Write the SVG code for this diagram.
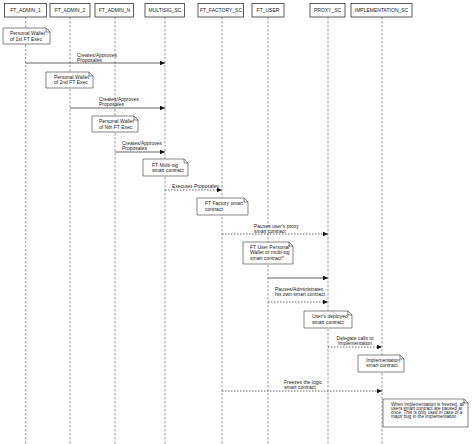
<svg xmlns="http://www.w3.org/2000/svg" width="474" height="444" viewBox="0 0 474 444">
<style>
text{font-family:"Liberation Sans",Arial,sans-serif;font-size:5px;fill:#222}
.hd{fill:#fff;stroke:#333;stroke-width:0.8}
.ht{text-anchor:middle}
.ll{stroke:#555;stroke-width:0.6;stroke-dasharray:2.5,1.5;fill:none}
.nt{fill:#fff;stroke:#333;stroke-width:0.6}
.sm{stroke:#222;stroke-width:0.7;fill:none;marker-end:url(#ah)}
.dm{stroke:#222;stroke-width:0.7;fill:none;stroke-dasharray:1.5,1.5;marker-end:url(#ah)}
.lb{}
</style>
<defs>
<marker id="ah" markerWidth="6" markerHeight="6" refX="5" refY="3" orient="auto" markerUnits="userSpaceOnUse">
<path d="M0,0.8 L5,3 L0,5.2 Z" fill="#111"/>
</marker>
</defs>
<rect width="474" height="444" fill="#fff"/>
<g id="lifelines">
<line class="ll" x1="25.7" y1="17" x2="25.7" y2="444"/>
<line class="ll" x1="70" y1="17" x2="70" y2="444"/>
<line class="ll" x1="115" y1="17" x2="115" y2="444"/>
<line class="ll" x1="165" y1="17" x2="165" y2="444"/>
<line class="ll" x1="222" y1="17" x2="222" y2="444"/>
<line class="ll" x1="268" y1="17" x2="268" y2="444"/>
<line class="ll" x1="328" y1="17" x2="328" y2="444"/>
<line class="ll" x1="382" y1="17" x2="382" y2="444"/>
</g>
<g id="FT_ADMIN_1"><rect class="hd" x="4.5" y="3.5" width="42" height="13.5"/><text class="ht" x="25.5" y="12">FT_ADMIN_1</text></g>
<g id="FT_ADMIN_2"><rect class="hd" x="50" y="3.5" width="40" height="13.5"/><text class="ht" x="70" y="12">FT_ADMIN_2</text></g>
<g id="FT_ADMIN_N"><rect class="hd" x="95" y="3.5" width="38.5" height="13.5"/><text class="ht" x="114.5" y="12">FT_ADMIN_N</text></g>
<g id="MULTISIG_SC"><rect class="hd" x="145" y="3.5" width="39.5" height="13.5"/><text class="ht" x="165" y="12">MULTISIG_SC</text></g>
<g id="FT_FACTORY_SC"><rect class="hd" x="198" y="3.5" width="45.5" height="13.5"/><text class="ht" x="221" y="12">FT_FACTORY_SC</text></g>
<g id="FT_USER"><rect class="hd" x="252" y="3.5" width="32" height="13.5"/><text class="ht" x="268" y="12">FT_USER</text></g>
<g id="PROXY_SC"><rect class="hd" x="310" y="3.5" width="35" height="13.5"/><text class="ht" x="327.5" y="12">PROXY_SC</text></g>
<g id="IMPLEMENTATION_SC"><rect class="hd" x="351" y="3.5" width="61" height="13.5"/><text class="ht" x="381.5" y="12">IMPLEMENTATION_SC</text></g>

<g id="note1"><path class="nt" d="M3,28 H46 L50,32 V44 H3 Z M46,28 V32 H50"/><text x="10" y="35">Personal Wallet</text><text x="10" y="40.5">of 1st FT Exec</text></g>
<g id="note2"><path class="nt" d="M46,72 H89 L93,76 V88 H46 Z M89,72 V76 H93"/><text x="54" y="78.5">Personal Wallet</text><text x="54" y="84">of 2nd FT Exec</text></g>
<g id="note3"><path class="nt" d="M92,116 H134 L138,120 V132 H92 Z M134,116 V120 H138"/><text x="99" y="122.5">Personal Wallet</text><text x="99" y="128.5">of Nth FT Exec</text></g>
<g id="note4"><path class="nt" d="M143,159 H184 L188,163 V176 H143 Z M184,159 V163 H188"/><text x="152" y="166.5">FT Multi-sig</text><text x="152" y="171.5">smart contract</text></g>
<g id="note5"><path class="nt" d="M197,198 H244 L248,202 V215 H197 Z M244,198 V202 H248"/><text x="205" y="204.5">FT Factory smart</text><text x="205" y="210.5">contract</text></g>
<g id="note6"><path class="nt" d="M243,242 H289 L293,246 V264 H243 Z M289,242 V246 H293"/><text x="250" y="248.5">FT User Personal</text><text x="250" y="254">Wallet or multi-sig</text><text x="250" y="259.5">smart contract*</text></g>
<g id="note7"><path class="nt" d="M304,311 H348 L352,315 V328 H304 Z M348,311 V315 H352"/><text x="312" y="317.5">User's deployed</text><text x="312" y="323.5">smart contract</text></g>
<g id="note8"><path class="nt" d="M358,355 H400 L404,359 V372 H358 Z M400,355 V359 H404"/><text x="366" y="361.5">Implementation</text><text x="366" y="367">smart contract</text></g>
<g id="note9"><path class="nt" d="M383,399 H464 L468,403 V427 H383 Z M464,399 V403 H468"/><text x="391" y="405.5" style="font-size:4.6px">When Implementation is freezed, all</text><text x="391" y="409.5" style="font-size:4.6px">users smart contract are paused at</text><text x="391" y="413.5" style="font-size:4.6px">once. This is only used in case of a</text><text x="391" y="417.5" style="font-size:4.6px">major bug in the implementation</text></g>

<g id="connectors">
<line class="sm" x1="25.7" y1="63" x2="165" y2="63"/>
<line class="sm" x1="70" y1="108" x2="165" y2="108"/>
<line class="sm" x1="115" y1="152" x2="165" y2="152"/>
<line class="dm" x1="165" y1="190" x2="222" y2="190"/>
<line class="dm" x1="222" y1="234" x2="328" y2="234"/>
<line class="sm" x1="268" y1="278" x2="328" y2="278"/>
<line class="dm" x1="268" y1="302" x2="328" y2="302"/>
<line class="dm" x1="328" y1="347" x2="382" y2="347"/>
<line class="dm" x1="222" y1="391" x2="382" y2="391"/>
<text x="77" y="56.5">Creates/Approves</text><text x="77" y="61.5">Proposales</text>
<text x="99" y="100.5">Creates/Approves</text><text x="99" y="105.5">Proposales</text>
<text x="122" y="144.5">Creates/Approves</text><text x="122" y="149.5">Proposales</text>
<text x="172" y="187.5">Executes Proposales</text>
<text x="254" y="227.5">Pauses user's proxy</text><text x="254" y="232.5">smart contract</text>
<text x="275" y="290.5">Pauses/Administrates</text><text x="275" y="295.5">his own smart contract</text>
<text x="355" y="339.5" text-anchor="middle">Delegate calls to</text><text x="355" y="344.5" text-anchor="middle">Implementation</text>
<text x="284" y="383.5">Freezes the logic</text><text x="284" y="388.5">smart contract</text>
</g>
</svg>
